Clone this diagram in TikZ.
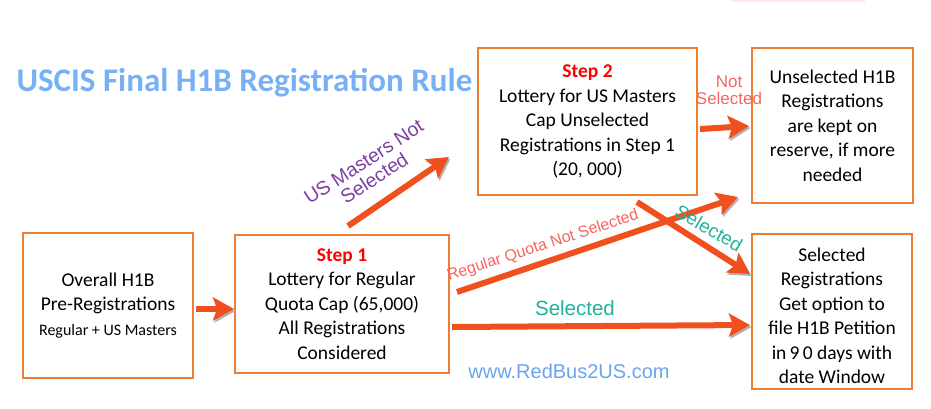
\documentclass[tikz,border=0pt]{standalone}
\usepackage{fontspec}
\setmainfont{Carlito}
\newfontfamily\arialfont{Liberation Sans}
\usetikzlibrary{arrows.meta, positioning}
\definecolor{boxorange}{HTML}{ED7D31}
\definecolor{arrred}{HTML}{F0501E}
\definecolor{titleblue}{HTML}{78B0F5}
\definecolor{webblue}{HTML}{6AA4F0}
\definecolor{lblpurple}{HTML}{7B3FA3}
\definecolor{lblsalmon}{HTML}{F46660}
\definecolor{lblteal}{HTML}{1DB39A}
\newcommand{\stephdr}[1]{\textcolor{red}{\textbf{#1}}}

\begin{document}
\begin{tikzpicture}[
  x=1pt, y=-1pt,
  box/.style={draw=boxorange, line width=1.8pt, inner sep=0pt, align=center,
    font=\fontsize{19.5}{24.5}\selectfont},
  arrw/.style={-{Stealth[length=21pt,width=23pt,inset=4pt]}, line width=6pt, arrred,
    preaction={draw=black!30, transform canvas={shift={(1.5pt,-2pt)}}}},
  lbl/.style={font=\arialfont\fontsize{#1}{#1}\selectfont, align=center, inner sep=1pt},
]
  \useasboundingbox (0,0) rectangle (931,408);
  \fill[red!10] (732,0) rectangle (865,1.5);

  %% title
  \node[anchor=west, text=titleblue, font=\fontsize{33}{34}\selectfont\bfseries]
    (title) at (13,83) {USCIS Final H1B Registration Rule};

  %% boxes
  \node[box, minimum width=170pt, minimum height=145pt] (over) at (108,305.5)
    {Overall H1B\\Pre-Registrations\\{\fontsize{16}{21}\selectfont Regular + US Masters}};
  \node[box, minimum width=214pt, minimum height=138pt] (step1) at (342,304)
    {\stephdr{Step 1}\\Lottery for Regular\\Quota Cap (65,000)\\All Registrations\\Considered};
  \node[box, minimum width=219pt, minimum height=147pt] (step2) at (587.5,121.5)
    {\stephdr{Step 2}\\Lottery for US Masters\\Cap Unselected\\Registrations in Step 1\\(20, 000)};
  \node[box, minimum width=161pt, minimum height=155pt] (unsel) at (832.5,125.5)
    {Unselected H1B\\Registrations\\are kept on\\reserve, if more\\needed};
  \node[box, minimum width=160pt, minimum height=155pt] (sel) at (832,311.5)
    {\rule{0pt}{22pt}Selected\\Registrations\\Get option to\\file H1B Petition\\in\,9\,0 days with\\date Window};

  %% arrow ends
  \coordinate (usmA) at (348,226);
  \coordinate (usmB) at (449,157);
  \coordinate (nsA) at (700,129);
  \coordinate (nsB) at (749,126);
  \coordinate (rqA) at (457,292);
  \coordinate (rqB) at (738,197);
  \coordinate (s2A) at (637,202);
  \coordinate (s2B) at (750,274);
  \coordinate (seA) at (452,327);
  \coordinate (seB) at (750,325);

  %% arrows
  \draw[arrw] ([xshift=2pt,yshift=-3.5pt]over.east) -- ([yshift=-5pt]step1.west);
  \draw[arrw] (usmA) -- (usmB);
  \draw[arrw] (nsA) -- (nsB);
  \draw[arrw] (rqA) -- (rqB);
  \draw[arrw] (s2A) -- (s2B);
  \draw[arrw] (seA) -- (seB);

  %% labels
  \node[lbl=19.5, text=lblpurple, rotate=33] (usmtxt) at (369,170) {US Masters Not\\Selected};
  \node[lbl=17, text=lblsalmon] (nstxt) at (729,90) {Not\\Selected};
  \node[lbl=16, text=lblsalmon, rotate=18] (rqtxt) at (543,246) {Regular Quota Not Selected};
  \node[lbl=19, text=lblteal, rotate=-30] (s2txt) at (709,228) {Selected};
  \node[lbl=20.5, text=lblteal] (setxt) at (575,308) {Selected};
  \node[lbl=20, text=webblue] (web) at (569,371) {www.RedBus2US.com};
\end{tikzpicture}
\end{document}
